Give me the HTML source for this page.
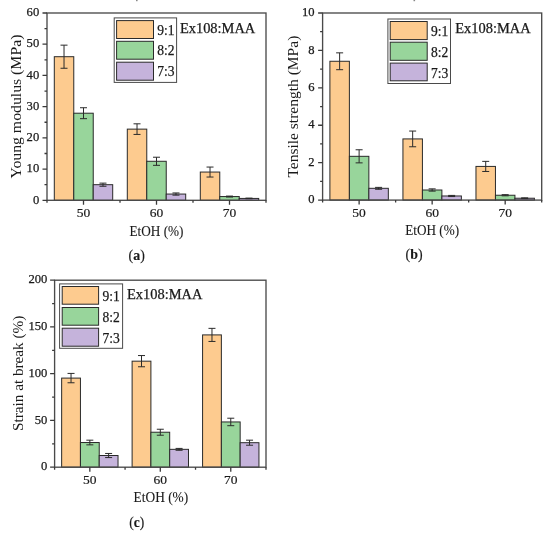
<!DOCTYPE html>
<html><head><meta charset="utf-8"><title>Figure</title>
<style>
html,body{margin:0;padding:0;background:#fff;}
svg{display:block;}
text{font-family:"Liberation Serif", serif;fill:#1a1a1a;stroke:#1a1a1a;stroke-width:0.25px;}
.tk{font-size:12.6px;}
.xk{font-size:13.5px;stroke-width:0.2px;}
.lg{font-size:14px;}
.tt{font-size:14.5px;stroke-width:0;}
.tt2{font-size:13.8px;stroke-width:0.1px;}
.cp{font-size:14px;stroke-width:0.15px;}
</style></head><body>
<svg width="550" height="534" viewBox="0 0 550 534">
<rect width="550" height="534" fill="#fff"/>
<rect x="54.3" y="56.7" width="19.47" height="143.6" fill="#FDCB8F" stroke="#2a2a2a" stroke-width="1"/>
<rect x="73.77" y="113.21" width="19.47" height="87.09" fill="#98D59B" stroke="#2a2a2a" stroke-width="1"/>
<rect x="93.23" y="184.69" width="19.47" height="15.61" fill="#C5B3DB" stroke="#2a2a2a" stroke-width="1"/>
<rect x="127.3" y="129.13" width="19.47" height="71.17" fill="#FDCB8F" stroke="#2a2a2a" stroke-width="1"/>
<rect x="146.77" y="161.28" width="19.47" height="39.02" fill="#98D59B" stroke="#2a2a2a" stroke-width="1"/>
<rect x="166.23" y="194.06" width="19.47" height="6.24" fill="#C5B3DB" stroke="#2a2a2a" stroke-width="1"/>
<rect x="200.3" y="172.05" width="19.47" height="28.25" fill="#FDCB8F" stroke="#2a2a2a" stroke-width="1"/>
<rect x="219.77" y="196.55" width="19.47" height="3.75" fill="#98D59B" stroke="#2a2a2a" stroke-width="1"/>
<rect x="239.23" y="198.43" width="19.47" height="1.87" fill="#C5B3DB" stroke="#2a2a2a" stroke-width="1"/>
<path d="M64.03 45.15V68.25M60.53 45.15H67.53M60.53 68.25H67.53" stroke="#2a2a2a" stroke-width="1" fill="none"/>
<path d="M83.5 107.74V118.67M80 107.74H87M80 118.67H87" stroke="#2a2a2a" stroke-width="1" fill="none"/>
<path d="M102.97 183.13V186.25M99.47 183.13H106.47M99.47 186.25H106.47" stroke="#2a2a2a" stroke-width="1" fill="none"/>
<path d="M137.03 123.82V134.43M133.53 123.82H140.53M133.53 134.43H140.53" stroke="#2a2a2a" stroke-width="1" fill="none"/>
<path d="M156.5 157.22V165.34M153 157.22H160M153 165.34H160" stroke="#2a2a2a" stroke-width="1" fill="none"/>
<path d="M175.97 192.96V195.15M172.47 192.96H179.47M172.47 195.15H179.47" stroke="#2a2a2a" stroke-width="1" fill="none"/>
<path d="M210.03 167.05V177.04M206.53 167.05H213.53M206.53 177.04H213.53" stroke="#2a2a2a" stroke-width="1" fill="none"/>
<path d="M229.5 196.09V197.02M226 196.09H233M226 197.02H233" stroke="#2a2a2a" stroke-width="1" fill="none"/>
<path d="M248.97 198.11V198.74M245.47 198.11H252.47M245.47 198.74H252.47" stroke="#2a2a2a" stroke-width="1" fill="none"/>
<rect x="47" y="13" width="219" height="187.3" fill="none" stroke="#4a4a4a" stroke-width="1.35"/>
<path d="M42.5 200.3H47M42.5 169.08H47M42.5 137.87H47M42.5 106.65H47M42.5 75.43H47M42.5 44.22H47M42.5 13H47M44.5 184.69H47M44.5 153.48H47M44.5 122.26H47M44.5 91.04H47M44.5 59.82H47M44.5 28.61H47M83.5 200.3V204.8M156.5 200.3V204.8M229.5 200.3V204.8M47 200.3V202.8M120 200.3V202.8M193 200.3V202.8M266 200.3V202.8" stroke="#3a3a3a" stroke-width="1.3" fill="none"/>
<text x="39.2" y="203.5" class="tk" text-anchor="end">0</text>
<text x="39.2" y="172.28" class="tk" text-anchor="end">10</text>
<text x="39.2" y="141.07" class="tk" text-anchor="end">20</text>
<text x="39.2" y="109.85" class="tk" text-anchor="end">30</text>
<text x="39.2" y="78.63" class="tk" text-anchor="end">40</text>
<text x="39.2" y="47.42" class="tk" text-anchor="end">50</text>
<text x="39.2" y="16.2" class="tk" text-anchor="end">60</text>
<text x="83.5" y="217.1" class="xk" text-anchor="middle">50</text>
<text x="156.5" y="217.1" class="xk" text-anchor="middle">60</text>
<text x="229.5" y="217.1" class="xk" text-anchor="middle">70</text>
<rect x="114.2" y="17.9" width="62.4" height="64.5" fill="#fff" stroke="#4a4a4a" stroke-width="1"/>
<rect x="116.6" y="20.6" width="36.9" height="17.9" fill="#FDCB8F" stroke="#2a2a2a" stroke-width="1"/>
<rect x="116.6" y="41.3" width="36.9" height="17.9" fill="#98D59B" stroke="#2a2a2a" stroke-width="1"/>
<rect x="116.6" y="62.2" width="36.9" height="18" fill="#C5B3DB" stroke="#2a2a2a" stroke-width="1"/>
<text x="157.2" y="35.4" class="lg" textLength="17.3" lengthAdjust="spacingAndGlyphs">9:1</text>
<text x="157.2" y="55.3" class="lg" textLength="17.3" lengthAdjust="spacingAndGlyphs">8:2</text>
<text x="157.2" y="76" class="lg" textLength="17.3" lengthAdjust="spacingAndGlyphs">7:3</text>
<text x="179.9" y="33" class="lg" textLength="75.4" lengthAdjust="spacingAndGlyphs">Ex108:MAA</text>
<text transform="translate(21,178.4) rotate(-90)" x="0" y="0" class="tt" textLength="143.8" lengthAdjust="spacingAndGlyphs">Young modulus (MPa)</text>
<text x="129.5" y="235.5" class="tt2" textLength="54" lengthAdjust="spacingAndGlyphs">EtOH (%)</text>
<text x="128.6" y="259.6" class="cp" textLength="16.2" lengthAdjust="spacingAndGlyphs">(<tspan font-weight="bold">a</tspan>)</text>
<rect x="329.9" y="61.27" width="19.48" height="138.83" fill="#FDCB8F" stroke="#2a2a2a" stroke-width="1"/>
<rect x="349.38" y="156.32" width="19.48" height="43.78" fill="#98D59B" stroke="#2a2a2a" stroke-width="1"/>
<rect x="368.85" y="188.31" width="19.48" height="11.79" fill="#C5B3DB" stroke="#2a2a2a" stroke-width="1"/>
<rect x="402.94" y="138.92" width="19.48" height="61.18" fill="#FDCB8F" stroke="#2a2a2a" stroke-width="1"/>
<rect x="422.41" y="190" width="19.48" height="10.1" fill="#98D59B" stroke="#2a2a2a" stroke-width="1"/>
<rect x="441.89" y="195.98" width="19.48" height="4.12" fill="#C5B3DB" stroke="#2a2a2a" stroke-width="1"/>
<rect x="475.97" y="166.42" width="19.48" height="33.68" fill="#FDCB8F" stroke="#2a2a2a" stroke-width="1"/>
<rect x="495.45" y="195.24" width="19.48" height="4.86" fill="#98D59B" stroke="#2a2a2a" stroke-width="1"/>
<rect x="514.92" y="198.23" width="19.48" height="1.87" fill="#C5B3DB" stroke="#2a2a2a" stroke-width="1"/>
<path d="M339.64 52.85V69.69M336.14 52.85H343.14M336.14 69.69H343.14" stroke="#2a2a2a" stroke-width="1" fill="none"/>
<path d="M359.12 149.77V162.87M355.62 149.77H362.62M355.62 162.87H362.62" stroke="#2a2a2a" stroke-width="1" fill="none"/>
<path d="M378.59 187.38V189.25M375.09 187.38H382.09M375.09 189.25H382.09" stroke="#2a2a2a" stroke-width="1" fill="none"/>
<path d="M412.67 131.06V146.78M409.17 131.06H416.17M409.17 146.78H416.17" stroke="#2a2a2a" stroke-width="1" fill="none"/>
<path d="M432.15 188.87V191.12M428.65 188.87H435.65M428.65 191.12H435.65" stroke="#2a2a2a" stroke-width="1" fill="none"/>
<path d="M451.63 195.42V196.55M448.13 195.42H455.13M448.13 196.55H455.13" stroke="#2a2a2a" stroke-width="1" fill="none"/>
<path d="M485.71 161.37V171.47M482.21 161.37H489.21M482.21 171.47H489.21" stroke="#2a2a2a" stroke-width="1" fill="none"/>
<path d="M505.18 194.67V195.8M501.68 194.67H508.68M501.68 195.8H508.68" stroke="#2a2a2a" stroke-width="1" fill="none"/>
<path d="M524.66 197.85V198.6M521.16 197.85H528.16M521.16 198.6H528.16" stroke="#2a2a2a" stroke-width="1" fill="none"/>
<rect x="322.6" y="13" width="219.1" height="187.1" fill="none" stroke="#4a4a4a" stroke-width="1.35"/>
<path d="M318.1 200.1H322.6M318.1 162.68H322.6M318.1 125.26H322.6M318.1 87.84H322.6M318.1 50.42H322.6M318.1 13H322.6M320.1 181.39H322.6M320.1 143.97H322.6M320.1 106.55H322.6M320.1 69.13H322.6M320.1 31.71H322.6M359.12 200.1V204.6M432.15 200.1V204.6M505.18 200.1V204.6M322.6 200.1V202.6M395.63 200.1V202.6M468.67 200.1V202.6M541.7 200.1V202.6" stroke="#3a3a3a" stroke-width="1.3" fill="none"/>
<text x="314.6" y="203.3" class="tk" text-anchor="end">0</text>
<text x="314.6" y="165.88" class="tk" text-anchor="end">2</text>
<text x="314.6" y="128.46" class="tk" text-anchor="end">4</text>
<text x="314.6" y="91.04" class="tk" text-anchor="end">6</text>
<text x="314.6" y="53.62" class="tk" text-anchor="end">8</text>
<text x="314.6" y="16.2" class="tk" text-anchor="end">10</text>
<text x="359.12" y="217.4" class="xk" text-anchor="middle">50</text>
<text x="432.15" y="217.4" class="xk" text-anchor="middle">60</text>
<text x="505.18" y="217.4" class="xk" text-anchor="middle">70</text>
<rect x="387.9" y="19" width="62.6" height="64.5" fill="#fff" stroke="#4a4a4a" stroke-width="1"/>
<rect x="390.2" y="21.5" width="37" height="18.1" fill="#FDCB8F" stroke="#2a2a2a" stroke-width="1"/>
<rect x="390.2" y="42.2" width="37" height="18.1" fill="#98D59B" stroke="#2a2a2a" stroke-width="1"/>
<rect x="390.2" y="63.1" width="37" height="17.7" fill="#C5B3DB" stroke="#2a2a2a" stroke-width="1"/>
<text x="430.9" y="35.6" class="lg" textLength="17.3" lengthAdjust="spacingAndGlyphs">9:1</text>
<text x="430.9" y="56.6" class="lg" textLength="17.3" lengthAdjust="spacingAndGlyphs">8:2</text>
<text x="430.9" y="77.6" class="lg" textLength="17.3" lengthAdjust="spacingAndGlyphs">7:3</text>
<text x="455.2" y="33.2" class="lg" textLength="75.4" lengthAdjust="spacingAndGlyphs">Ex108:MAA</text>
<text transform="translate(298,177.6) rotate(-90)" x="0" y="0" class="tt" textLength="141.9" lengthAdjust="spacingAndGlyphs">Tensile strength (MPa)</text>
<text x="405.3" y="235.4" class="tt2" textLength="53.8" lengthAdjust="spacingAndGlyphs">EtOH (%)</text>
<text x="405.6" y="258.8" class="cp" textLength="17" lengthAdjust="spacingAndGlyphs">(<tspan font-weight="bold">b</tspan>)</text>
<rect x="61.65" y="378.09" width="18.79" height="89.11" fill="#FDCB8F" stroke="#2a2a2a" stroke-width="1"/>
<rect x="80.44" y="442.52" width="18.79" height="24.68" fill="#98D59B" stroke="#2a2a2a" stroke-width="1"/>
<rect x="99.23" y="455.51" width="18.79" height="11.69" fill="#C5B3DB" stroke="#2a2a2a" stroke-width="1"/>
<rect x="132.11" y="361.17" width="18.79" height="106.03" fill="#FDCB8F" stroke="#2a2a2a" stroke-width="1"/>
<rect x="150.9" y="432.23" width="18.79" height="34.97" fill="#98D59B" stroke="#2a2a2a" stroke-width="1"/>
<rect x="169.7" y="449.34" width="18.79" height="17.86" fill="#C5B3DB" stroke="#2a2a2a" stroke-width="1"/>
<rect x="202.58" y="334.9" width="18.79" height="132.3" fill="#FDCB8F" stroke="#2a2a2a" stroke-width="1"/>
<rect x="221.37" y="421.95" width="18.79" height="45.25" fill="#98D59B" stroke="#2a2a2a" stroke-width="1"/>
<rect x="240.16" y="442.7" width="18.79" height="24.5" fill="#C5B3DB" stroke="#2a2a2a" stroke-width="1"/>
<path d="M71.04 373.42V382.77M67.54 373.42H74.54M67.54 382.77H74.54" stroke="#2a2a2a" stroke-width="1" fill="none"/>
<path d="M89.83 440.18V444.85M86.33 440.18H93.33M86.33 444.85H93.33" stroke="#2a2a2a" stroke-width="1" fill="none"/>
<path d="M108.62 453.46V457.57M105.12 453.46H112.12M105.12 457.57H112.12" stroke="#2a2a2a" stroke-width="1" fill="none"/>
<path d="M141.51 355.56V366.78M138.01 355.56H145.01M138.01 366.78H145.01" stroke="#2a2a2a" stroke-width="1" fill="none"/>
<path d="M160.3 429.24V435.22M156.8 429.24H163.8M156.8 435.22H163.8" stroke="#2a2a2a" stroke-width="1" fill="none"/>
<path d="M179.09 448.41V450.28M175.59 448.41H182.59M175.59 450.28H182.59" stroke="#2a2a2a" stroke-width="1" fill="none"/>
<path d="M211.98 328.35V341.44M208.48 328.35H215.48M208.48 341.44H215.48" stroke="#2a2a2a" stroke-width="1" fill="none"/>
<path d="M230.77 418.21V425.69M227.27 418.21H234.27M227.27 425.69H234.27" stroke="#2a2a2a" stroke-width="1" fill="none"/>
<path d="M249.56 440.18V445.23M246.06 440.18H253.06M246.06 445.23H253.06" stroke="#2a2a2a" stroke-width="1" fill="none"/>
<rect x="54.6" y="280.2" width="211.4" height="187" fill="none" stroke="#4a4a4a" stroke-width="1.35"/>
<path d="M50.1 467.2H54.6M50.1 420.45H54.6M50.1 373.7H54.6M50.1 326.95H54.6M50.1 280.2H54.6M52.1 443.82H54.6M52.1 397.07H54.6M52.1 350.32H54.6M52.1 303.57H54.6M89.83 467.2V471.7M160.3 467.2V471.7M230.77 467.2V471.7M54.6 467.2V469.7M125.07 467.2V469.7M195.53 467.2V469.7M266 467.2V469.7" stroke="#3a3a3a" stroke-width="1.3" fill="none"/>
<text x="47.4" y="470.4" class="tk" text-anchor="end">0</text>
<text x="47.4" y="423.65" class="tk" text-anchor="end">50</text>
<text x="47.4" y="376.9" class="tk" text-anchor="end">100</text>
<text x="47.4" y="330.15" class="tk" text-anchor="end">150</text>
<text x="47.4" y="283.4" class="tk" text-anchor="end">200</text>
<text x="89.83" y="484.3" class="xk" text-anchor="middle">50</text>
<text x="160.3" y="484.3" class="xk" text-anchor="middle">60</text>
<text x="230.77" y="484.3" class="xk" text-anchor="middle">70</text>
<rect x="59.6" y="283.9" width="63" height="64.4" fill="#fff" stroke="#4a4a4a" stroke-width="1"/>
<rect x="62.2" y="286.5" width="36.4" height="17.7" fill="#FDCB8F" stroke="#2a2a2a" stroke-width="1"/>
<rect x="62.2" y="307.5" width="36.4" height="17.7" fill="#98D59B" stroke="#2a2a2a" stroke-width="1"/>
<rect x="62.2" y="328.2" width="36.4" height="18" fill="#C5B3DB" stroke="#2a2a2a" stroke-width="1"/>
<text x="102.4" y="300.9" class="lg" textLength="17.3" lengthAdjust="spacingAndGlyphs">9:1</text>
<text x="102.4" y="321.6" class="lg" textLength="17.3" lengthAdjust="spacingAndGlyphs">8:2</text>
<text x="102.4" y="342.6" class="lg" textLength="17.3" lengthAdjust="spacingAndGlyphs">7:3</text>
<text x="127" y="299.1" class="lg" textLength="75.4" lengthAdjust="spacingAndGlyphs">Ex108:MAA</text>
<text transform="translate(23.4,430.9) rotate(-90)" x="0" y="0" class="tt" textLength="115.2" lengthAdjust="spacingAndGlyphs">Strain at break (%)</text>
<text x="133.6" y="502.4" class="tt2" textLength="54.6" lengthAdjust="spacingAndGlyphs">EtOH (%)</text>
<text x="129.2" y="526.8" class="cp" textLength="15" lengthAdjust="spacingAndGlyphs">(<tspan font-weight="bold">c</tspan>)</text>
<rect x="136" y="0" width="1.6" height="1.2" fill="#888"/>
<rect x="413.5" y="0" width="1.6" height="1.2" fill="#888"/>
</svg>
</body></html>
